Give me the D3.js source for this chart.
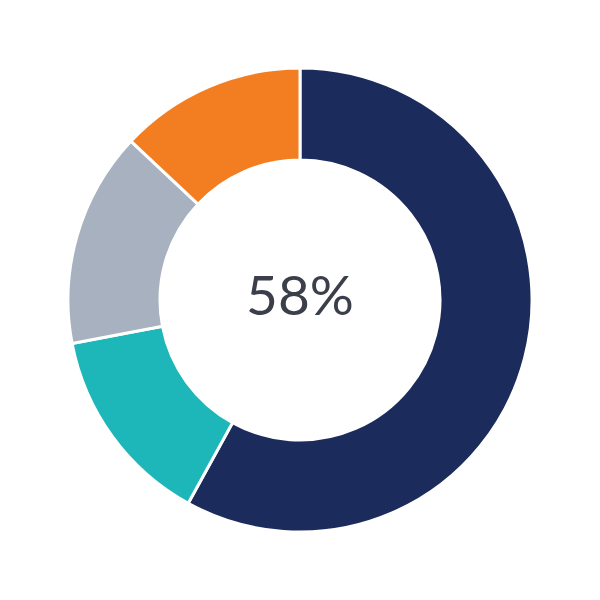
<!DOCTYPE html>
<html>
<head>
<meta charset="utf-8">
<script src="https://cdn.jsdelivr.net/npm/d3@7"></script>
<style>
  body { margin: 0; background: #fff; }
</style>
</head>
<body>
<div id="chart"></div>
<script>
const categories = ["A", "B", "C", "D"];
const values = [58, 14, 15, 13];
const colors = ["#1b2b5b", "#1db6b9", "#a7b1bf", "#f37e21"];
const centerLabel = "58%";

const width = 600, height = 600;
const outerR = 232, innerR = 140;

const svg = d3.select("#chart")
    .append("svg")
    .attr("width", width)
    .attr("height", height)
    .append("g")
    .attr("transform", "translate(" + 300 + "," + 300 + ")");

const data = categories.map((c, i) => ({cat: c, value: values[i], color: colors[i]}));

const pie = d3.pie()
    .value(d => d.value)
    .sort(null);

const arc = d3.arc()
    .innerRadius(innerR)
    .outerRadius(outerR);

svg.selectAll(".slice")
    .data(pie(data))
    .enter()
    .append("path")
    .attr("class", "slice")
    .attr("d", arc)
    .attr("fill", d => d.data.color)
    .attr("stroke", "#ffffff")
    .attr("stroke-width", 3);

svg.append("text")
    .attr("x", 0)
    .attr("y", -4)
    .attr("dy", "0.35em")
    .attr("text-anchor", "middle")
    .style("font-family", "Lato, sans-serif")
    .style("font-size", "55px")
    .style("fill", "#3a3f4a")
    .text(centerLabel);
</script>
</body>
</html>
